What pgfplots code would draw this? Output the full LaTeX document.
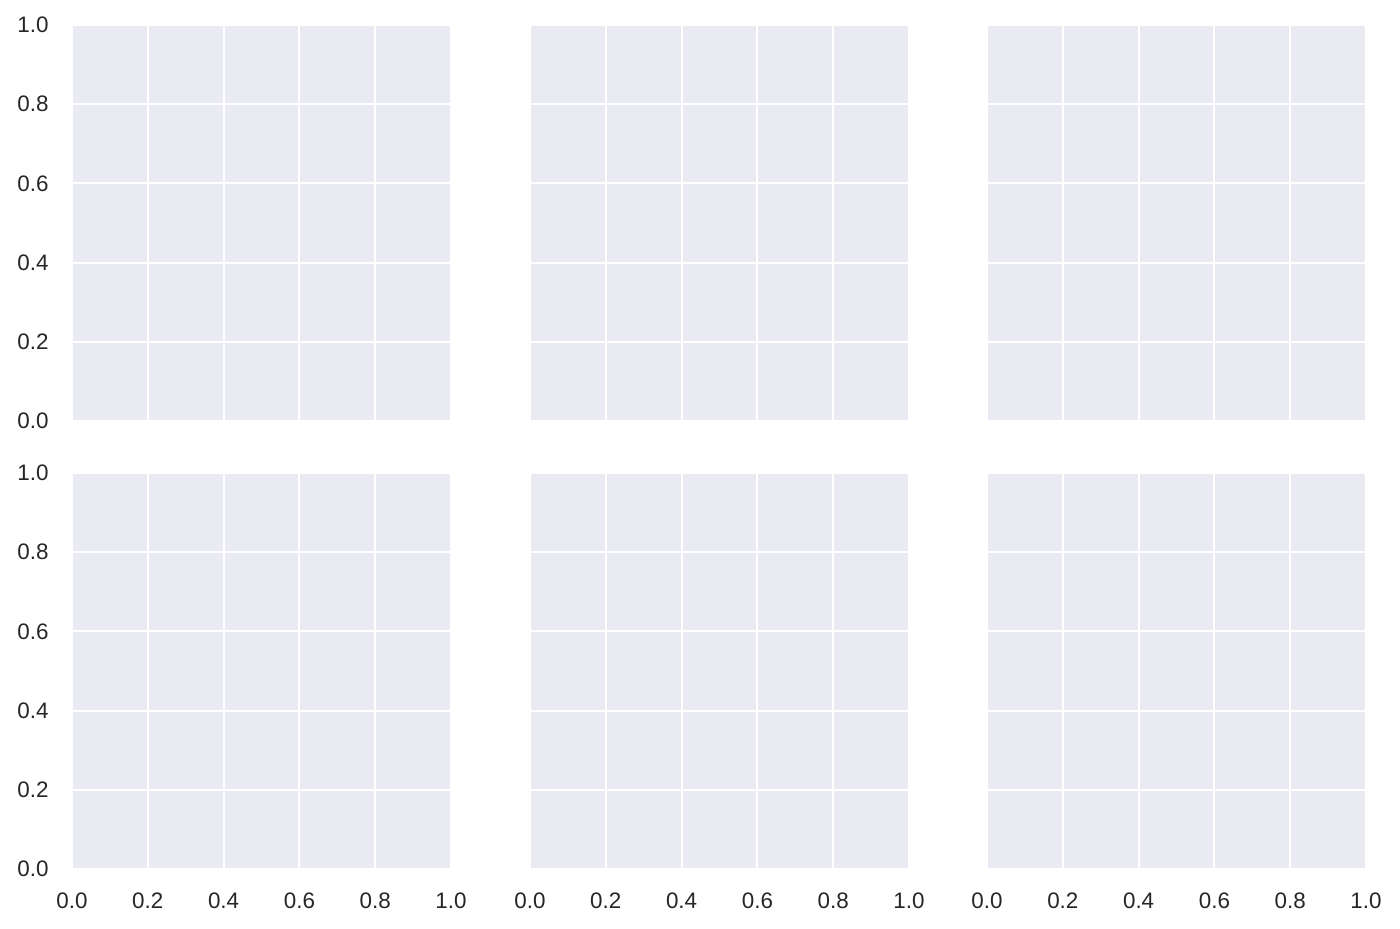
\documentclass[border=0pt]{standalone}
\usepackage{fontspec}
\setmainfont{Liberation Sans}
\usepackage{pgfplots}
\pgfplotsset{compat=1.18}
\definecolor{sbbg}{RGB}{234,234,242}
\definecolor{sbtxt}{RGB}{38,38,38}
\pgfplotsset{
  sbax/.style={
    scale only axis, width=189.5pt, height=198pt,
    anchor=south west,
    xmin=0, xmax=1, ymin=0, ymax=1,
    xtick={0,0.2,0.4,0.6,0.8,1.0}, ytick={0,0.2,0.4,0.6,0.8,1.0},
    axis background/.style={fill=sbbg},
    axis line style={draw=none},
    major tick length=0pt,
    grid=major,
    major grid style={white, line width=1pt},
    tick label style={font=\fontsize{11.2}{13}\selectfont, text=sbtxt, inner sep=0pt,
      /pgf/number format/assume math mode=true,
      /pgf/number format/fixed, /pgf/number format/fixed zerofill,
      /pgf/number format/precision=1},
    yticklabel style={xshift=-11.5pt},
    xticklabel style={yshift=-11.5pt},
  },
  nox/.style={xticklabels={}},
  noy/.style={yticklabels={}},
}
\begin{document}
\begin{tikzpicture}
\path[use as bounding box] (0,0) rectangle (700pt,464.5pt);
% top row
\begin{axis}[sbax, nox, at={(36pt,254pt)}]
\addplot[draw=none] coordinates {(0,0)};
\end{axis}
\begin{axis}[sbax, nox, noy, at={(265pt,254pt)}]
\addplot[draw=none] coordinates {(0,0)};
\end{axis}
\begin{axis}[sbax, nox, noy, at={(493.5pt,254pt)}]
\addplot[draw=none] coordinates {(0,0)};
\end{axis}
% bottom row
\begin{axis}[sbax, at={(36pt,30pt)}]
\addplot[draw=none] coordinates {(0,0)};
\end{axis}
\begin{axis}[sbax, noy, at={(265pt,30pt)}]
\addplot[draw=none] coordinates {(0,0)};
\end{axis}
\begin{axis}[sbax, noy, at={(493.5pt,30pt)}]
\addplot[draw=none] coordinates {(0,0)};
\end{axis}
\end{tikzpicture}
\end{document}
